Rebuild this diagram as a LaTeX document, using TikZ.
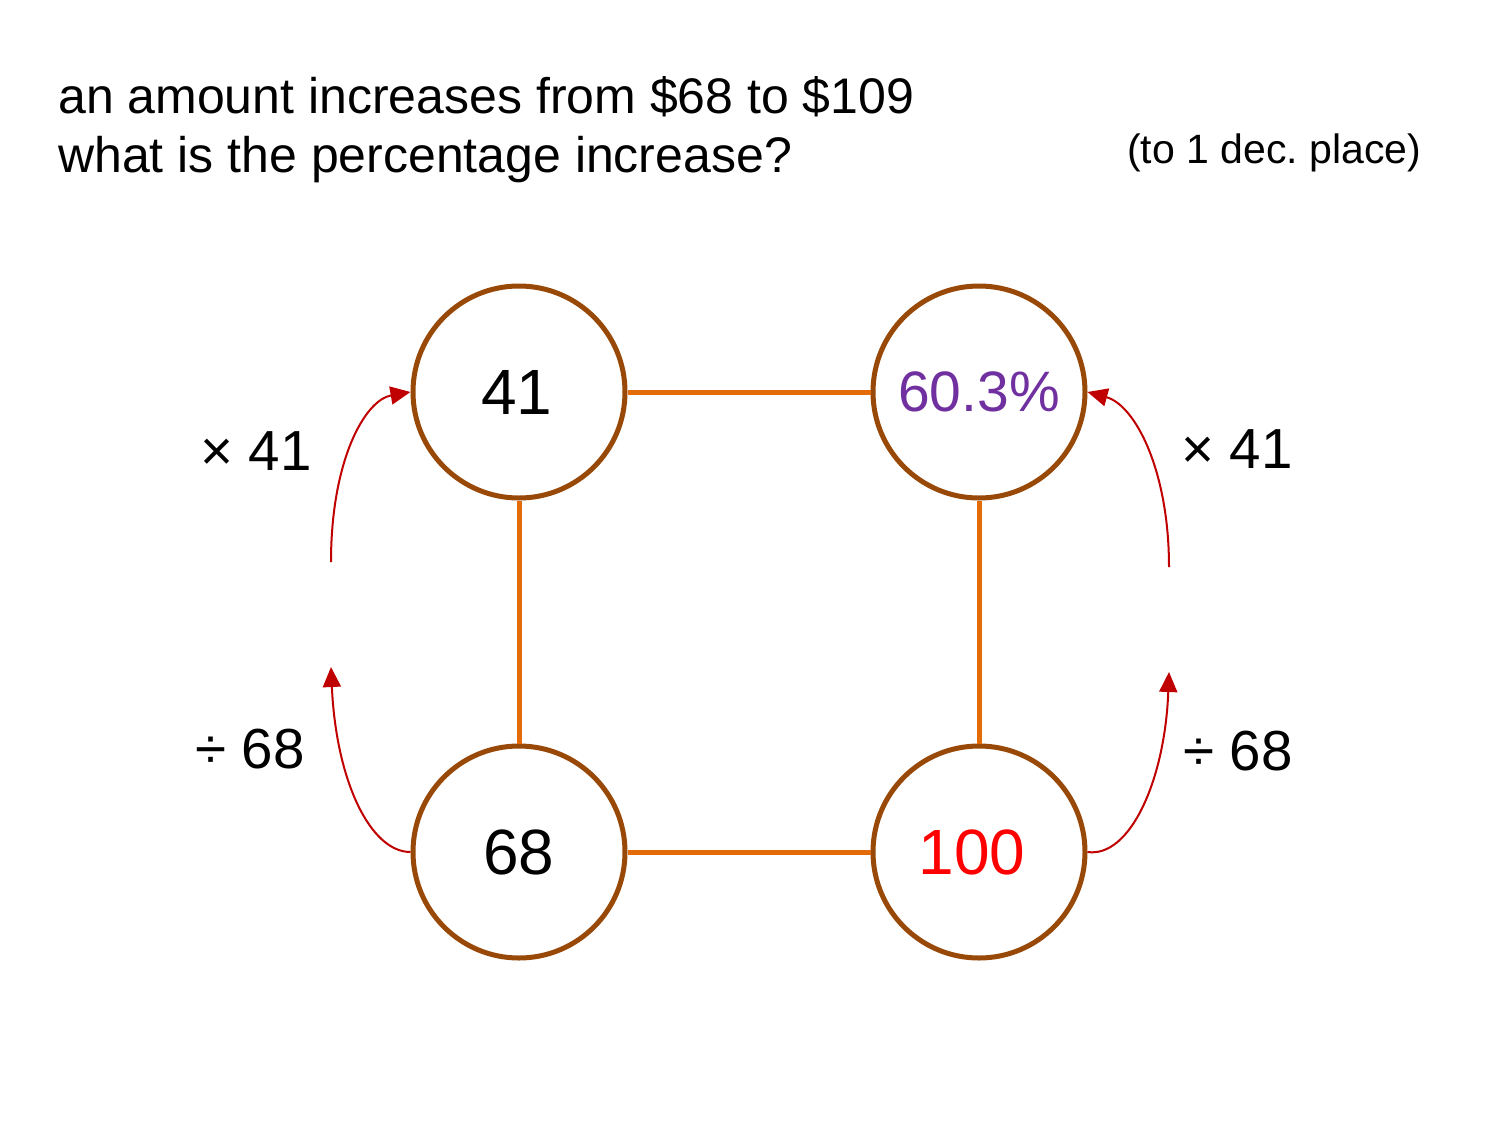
\documentclass[tikz,border=0pt]{standalone}
\usepackage{fontspec}
\setmainfont{Liberation Sans}
\usetikzlibrary{arrows.meta}
\definecolor{ringc}{HTML}{984807}
\definecolor{linkc}{HTML}{E36C09}
\definecolor{arrc}{HTML}{C00000}
\definecolor{pctc}{HTML}{7030A0}
\frenchspacing
\tikzset{
  ring/.style={circle,draw=ringc,line width=5pt,minimum size=212pt,inner sep=0pt,fill=white,font=\fontsize{64}{70}\selectfont},
  link/.style={draw=linkc,line width=5pt},
  arr/.style={draw=arrc,line width=2pt,-{Triangle[length=20pt,width=18pt]}},
  lbl/.style={anchor=base west,inner sep=0pt,font=\fontsize{56.5}{62}\selectfont},
  ttl/.style={anchor=base west,inner sep=0pt,font=\fontsize{50}{56}\selectfont}
}
\begin{document}
\begin{tikzpicture}[x=1pt,y=-1pt]
\useasboundingbox (0,0) rectangle (1500,1125);
\node[ttl] (t1) at (58,113) {an amount increases from \$68 to \$109};
\node[ttl] (t2) at (58,172) {what is the percentage increase?};
\node[anchor=base west,inner sep=0pt,font=\fontsize{41}{46}\selectfont] (t3) at (1127,163) {(to 1 dec. place)};
\node[ring] (a) at (519,392) {\hspace*{-4pt}41};
\node[ring] (b) at (979,392) {\textcolor{pctc}{\fontsize{57}{62}\selectfont 60.3\%}};
\node[ring] (c) at (519,852) {68};
\node[ring] (d) at (979,852) {\textcolor{red}{100}\hspace*{14pt}};
\draw[link] (a) -- (b);
\draw[link] (a) -- (c);
\draw[link] (b) -- (d);
\draw[link] (c) -- (d);
\coordinate (lu) at (331,562);
\coordinate (ll) at (331,667);
\coordinate (ru) at (1169,567);
\coordinate (rl) at (1169,672);
\draw[arr] (lu) .. controls (331,460) and (365,400) .. (a.west);
\draw[arr] (c.west) .. controls (370,852) and (336,780) .. (ll);
\draw[arr] (d.east) .. controls (1130,858) and (1165,780) .. (rl);
\draw[arr] (ru) .. controls (1169,470) and (1135,405) .. (b.east);
\node[lbl] (m1) at (200,470) {× 41};
\node[lbl] (m2) at (195,768) {÷ 68};
\node[lbl] (m3) at (1181,468) {× 41};
\node[lbl] (m4) at (1183,770) {÷ 68};
\end{tikzpicture}
\end{document}
